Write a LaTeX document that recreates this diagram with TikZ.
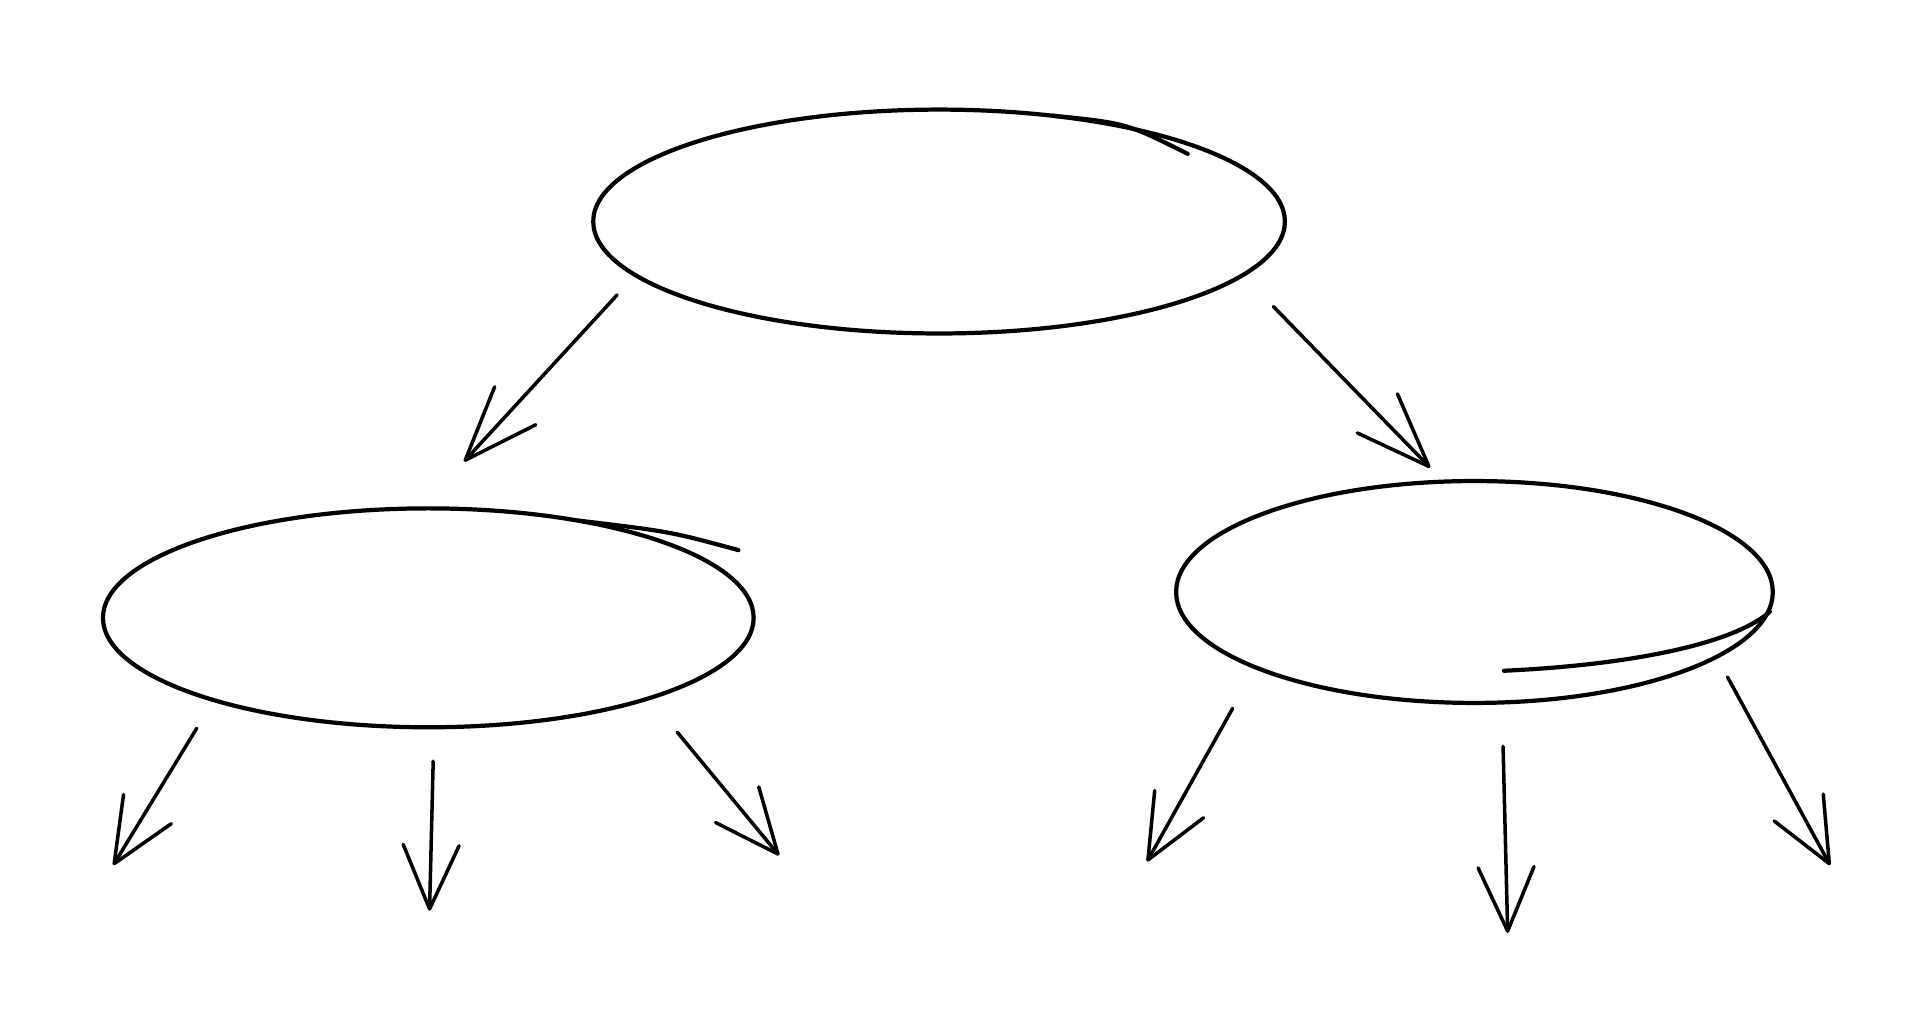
\documentclass[tikz,border=0pt]{standalone}
\usetikzlibrary{arrows.meta,shapes.geometric}

\begin{document}
\begin{tikzpicture}[x=0.0123077cm, y=-0.0123077cm, line cap=round, line join=round,
	blob/.style={ellipse, draw, line width=1.2pt, inner sep=0pt, outer sep=0pt},
	tail/.style={line width=1.2pt},
	arr/.style={line width=1pt, -{Straight Barb[length=0.64cm, width=0.56cm, round]}},
	bigarr/.style={line width=1pt, -{Straight Barb[length=0.74cm, width=0.56cm, round]}}]
			%%%%% START %%%%%
			\fill[white] (0, 0) rectangle (1560, 828.75);
			
			\node[blob, minimum width=6.92cm, minimum height=2.24cm] (root) at (763, 180) {};
			\node[blob, minimum width=6.51cm, minimum height=2.19cm] (lkid) at (348, 502) {};
			\node[blob, minimum width=5.97cm, minimum height=2.22cm] (rkid) at (1198, 481) {};
			
			% pen overshoots
			\draw[tail] (855, 94) .. controls (915, 100) .. (965, 125);
			\draw[tail] (470, 423) .. controls (545, 432) .. (600, 447);
			\draw[tail] (1222, 545) .. controls (1330, 540) and (1410, 522) .. (1438, 497);
			
			\coordinate (rootL) at (377, 375);
			\coordinate (rootR) at (1162, 380);
			\coordinate (lkid1) at (92, 703);
			\coordinate (lkid2) at (349, 740);
			\coordinate (lkid3) at (633, 695);
			\coordinate (rkid1) at (932, 700);
			\coordinate (rkid2) at (1225, 758);
			\coordinate (rkid3) at (1487, 703);
			
			\draw[bigarr, shorten <=0.27cm] (root.190) -- (rootL);
			\draw[bigarr, shorten <=0.44cm] (root.350.25) -- (rootR);
			
			\draw[arr, shorten <=0.33cm] (lkid.201.4) -- (lkid1);
			\draw[arr, shorten <=0.34cm] (lkid.273.75) -- (lkid2);
			\draw[arr, shorten <=0.44cm] (lkid.340.9) -- (lkid3);
			
			\draw[arr, shorten <=0.47cm] (rkid.199) -- (rkid1);
			\draw[arr, shorten <=0.44cm] (rkid.284.8) -- (rkid2);
			\draw[arr, shorten <=0.23cm] (rkid.345.4) -- (rkid3);
			%%%%% END %%%%%
\end{tikzpicture}
\end{document}
